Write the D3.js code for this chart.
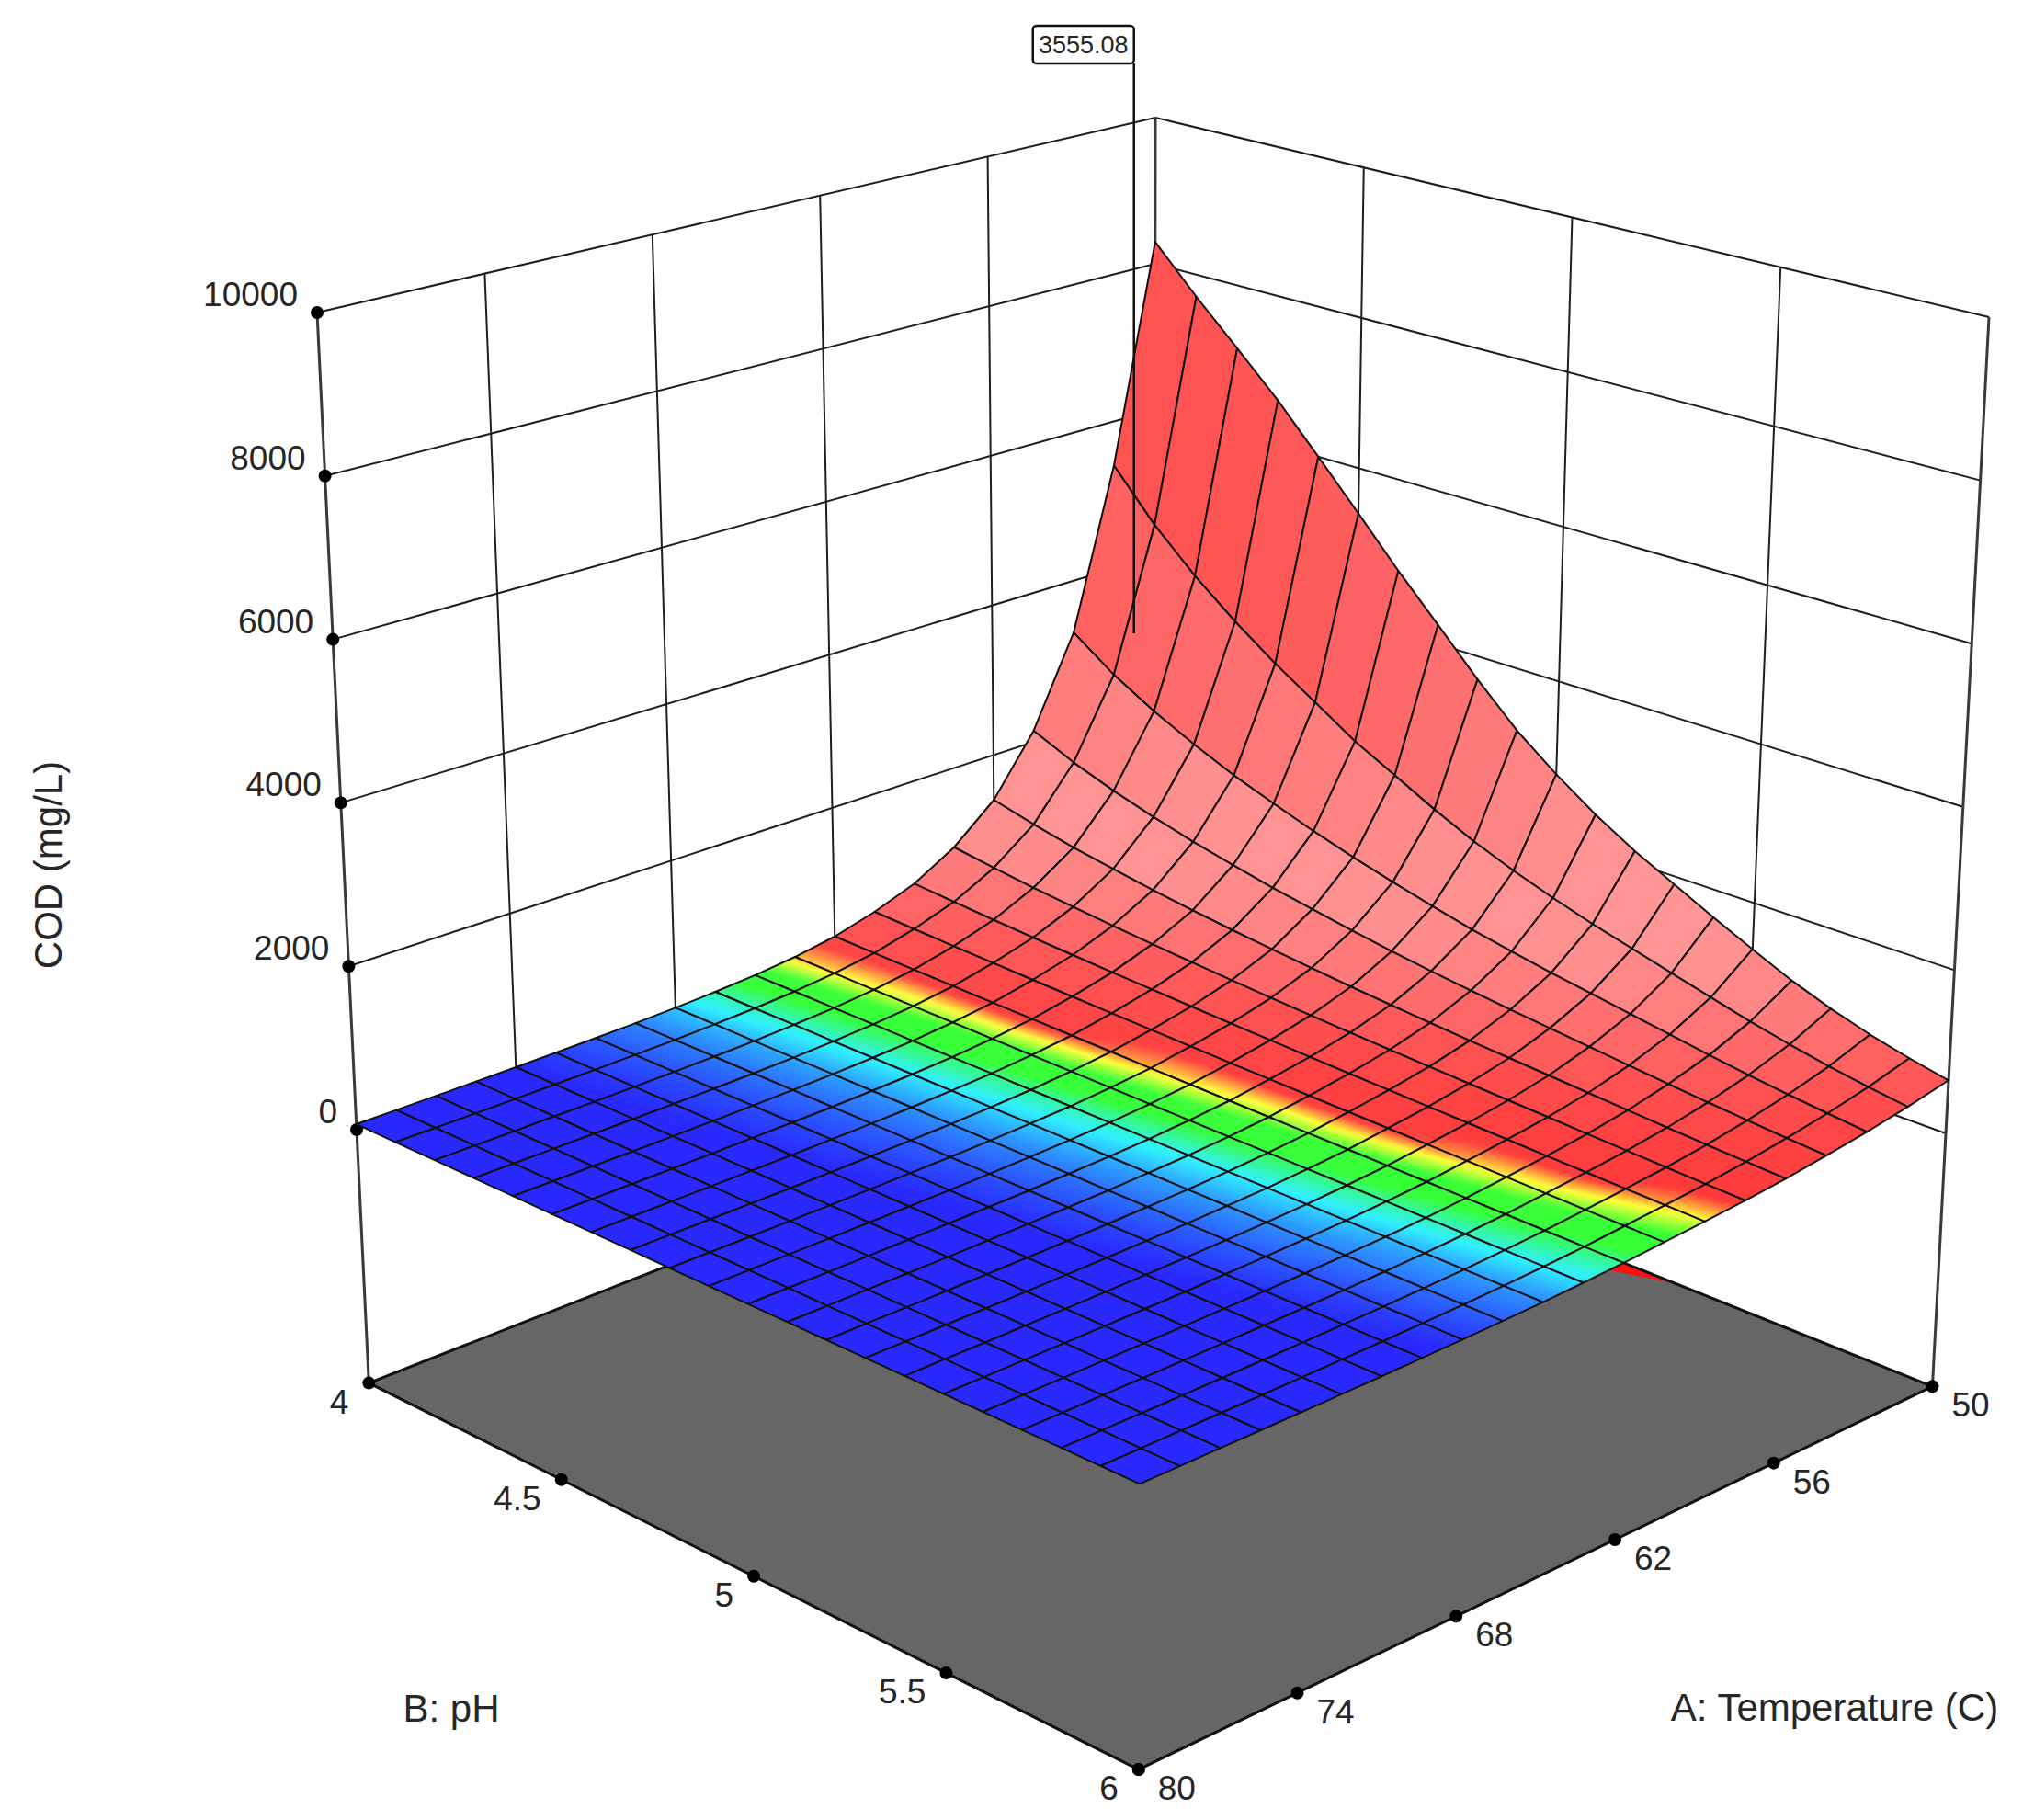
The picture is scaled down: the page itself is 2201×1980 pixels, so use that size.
<!DOCTYPE html>
<html lang="en">
<head>
    <meta charset="UTF-8">
    <title>COD response surface</title>
    <script src="https://d3js.org/d3.v7.min.js"></script>
    <style>
        body { margin: 0; background: #fff; }
        text { font-family: "Liberation Sans", Arial, sans-serif; fill: #262626; }
        .wall { stroke: #1e1e1e; stroke-width: 2px; }
        .edge { stroke: #3a3a3a; stroke-width: 3px; }
        .mesh { stroke: #111; stroke-width: 2px; stroke-linejoin: round; }
        .tick-label { font-size: 37px; }
        .axis-title { font-size: 42px; }
    </style>
</head>
<body>
    <svg width="2201" height="1980"></svg>
    <script>
        // grid of the fitted surface (A = temperature, B = pH)
        const tempGrid = [50, 51.5, 53, 54.5, 56, 57.5, 59, 60.5, 62, 63.5, 65, 66.5, 68, 69.5, 71, 72.5, 74, 75.5, 77, 78.5, 80];
        const phGrid = [4.0, 4.1, 4.2, 4.3, 4.4, 4.5, 4.6, 4.7, 4.8, 4.9, 5.0, 5.1, 5.2, 5.3, 5.4, 5.5, 5.6, 5.7, 5.8, 5.9, 6.0];

        // COD (mg/L), one row per pH, one column per temperature
        const codGrid = [
            [8300, 5400, 3300, 2150, 1400, 950, 650, 460, 320, 235, 180, 145, 120, 103, 92, 84, 78, 74, 71, 69, 68],
            [7700, 4760, 2910, 1910, 1266, 873, 608, 436, 306, 227, 175, 141, 118, 101, 91, 83, 77, 73, 70, 68, 67],
            [7150, 4240, 2600, 1720, 1150, 806, 570, 413, 294, 219, 170, 138, 115, 100, 89, 82, 76, 73, 70, 68, 67],
            [6600, 3800, 2340, 1560, 1060, 750, 537, 394, 282, 212, 165, 135, 113, 98, 88, 81, 76, 72, 69, 67, 66],
            [6000, 3410, 2110, 1420, 975, 698, 507, 375, 271, 205, 160, 132, 111, 97, 87, 80, 75, 71, 69, 67, 66],
            [5400, 3070, 1920, 1300, 900, 652, 479, 358, 261, 199, 156, 129, 109, 95, 86, 79, 74, 70, 68, 66, 65],
            [4800, 2730, 1740, 1190, 835, 611, 454, 342, 251, 193, 152, 126, 107, 94, 85, 78, 73, 70, 67, 66, 65],
            [4250, 2460, 1580, 1100, 776, 573, 430, 327, 242, 187, 148, 123, 105, 92, 84, 77, 72, 69, 67, 65, 64],
            [3700, 2190, 1440, 1010, 723, 538, 408, 313, 233, 181, 144, 121, 103, 91, 83, 76, 72, 68, 66, 65, 64],
            [3200, 1950, 1310, 928, 672, 506, 388, 299, 225, 176, 140, 118, 101, 89, 81, 75, 71, 68, 66, 64, 63],
            [2800, 1750, 1190, 858, 628, 477, 369, 287, 217, 170, 137, 115, 99, 88, 80, 75, 70, 67, 65, 64, 63],
            [2450, 1575, 1093, 795, 588, 450, 351, 275, 209, 165, 133, 113, 97, 87, 79, 74, 69, 67, 65, 63, 62],
            [2150, 1420, 1000, 737, 550, 426, 335, 264, 202, 161, 130, 110, 96, 85, 78, 73, 69, 66, 64, 63, 62],
            [1900, 1284, 921, 686, 517, 403, 319, 254, 195, 156, 127, 108, 94, 84, 77, 72, 68, 65, 64, 62, 61],
            [1650, 1150, 840, 635, 484, 381, 304, 244, 189, 152, 124, 106, 92, 83, 76, 71, 67, 65, 63, 62, 61],
            [1420, 1021, 763, 585, 451, 359, 289, 233, 182, 147, 121, 104, 91, 82, 75, 70, 67, 64, 63, 61, 60],
            [1200, 894, 685, 535, 419, 336, 274, 223, 175, 142, 117, 101, 89, 80, 74, 69, 66, 63, 62, 61, 60],
            [1020, 785, 616, 489, 389, 316, 260, 213, 169, 138, 114, 99, 87, 79, 73, 69, 65, 63, 62, 60, 59],
            [870, 689, 553, 447, 360, 296, 246, 203, 162, 134, 111, 97, 85, 78, 72, 68, 64, 62, 61, 60, 59],
            [750, 609, 499, 409, 334, 277, 233, 194, 156, 129, 108, 94, 84, 76, 71, 67, 64, 62, 61, 59, 58],
            [650, 540, 450, 375, 310, 260, 220, 185, 150, 125, 105, 92, 82, 75, 70, 66, 63, 61, 60, 59, 58]
        ];

        const tempTicks = [50, 56, 62, 68, 74, 80];
        const phTicks = [4, 4.5, 5, 5.5, 6];
        const codTicks = [0, 2000, 4000, 6000, 8000, 10000];

        // flagged design point
        const flagTemp = [53];
        const flagPH = [4.15];
        const flagCOD = [3555.08];

        // red patch of the floor projection peeking out at the back
        const floorPatchTemp = [50, 56.5, 50];
        const floorPatchPH = [4, 4, 5.34];

        const svg = d3.select("svg");
        const defs = svg.append("defs");

        // box coordinates: a along temperature, b along pH, c along COD
        const aS = d3.scaleLinear().domain([50, 80]).range([0, 1]);
        const bS = d3.scaleLinear().domain([4, 6]).range([0, 1]);
        const cS = d3.scaleLinear().domain([0, 10000]).range([0, 1]);
        const FLOOR = -0.31;

        // page position of the four vertical box edges (at COD 0 and at COD 10000)
        const frameCorners = [
            {a: 0, b: 0, base: [1256, 923], top: [1257, 128]},
            {a: 1, b: 0, base: [388, 1229], top: [345, 340]},
            {a: 0, b: 1, base: [2117, 1233], top: [2164, 345]},
            {a: 1, b: 1, base: [1240, 1620], top: [1244, 636]}
        ];

        function project(a, b, c) {
            let x = 0, y = 0;
            frameCorners.forEach(k => {
                const w = (k.a ? a : 1 - a) * (k.b ? b : 1 - b);
                x += w * (k.base[0] + c * (k.top[0] - k.base[0]));
                y += w * (k.base[1] + c * (k.top[1] - k.base[1]));
            });
            return [x, y];
        }

        function drawSegs(cls, segs) {
            svg.append("g")
                .selectAll("line")
                .data(segs)
                .join("line")
                .attr("class", cls)
                .each(function(d) {
                    const p1 = project(...d[0]), p2 = project(...d[1]);
                    d3.select(this).attr("x1", p1[0]).attr("y1", p1[1]).attr("x2", p2[0]).attr("y2", p2[1]);
                });
        }

        // floor
        const floorPts = [[0, 0], [1, 0], [1, 1], [0, 1]].map(([a, b]) => project(a, b, FLOOR));
        svg.append("path")
            .attr("d", d3.line()(floorPts) + "Z")
            .attr("fill", "#666666");
        svg.append("path")
            .attr("d", d3.line()(floorPatchTemp.map((t, k) => project(aS(t), bS(floorPatchPH[k]), FLOOR))) + "Z")
            .attr("fill", "#ff1010");
        svg.append("path")
            .attr("d", d3.line()(floorPts) + "Z")
            .attr("fill", "none")
            .attr("stroke", "#111")
            .attr("stroke-width", 3)
            .attr("stroke-linejoin", "round");

        // back walls
        const wallSegs = [];
        codTicks.forEach(v => {
            wallSegs.push([[1, 0, cS(v)], [0, 0, cS(v)]]);
            wallSegs.push([[0, 0, cS(v)], [0, 1, cS(v)]]);
        });
        tempTicks.slice(1, -1).forEach(t => wallSegs.push([[aS(t), 0, 0], [aS(t), 0, 1]]));
        phTicks.slice(1, -1).forEach(p => wallSegs.push([[0, bS(p), 0], [0, bS(p), 1]]));
        drawSegs("wall", wallSegs);

        drawSegs("edge", [
            [[1, 0, FLOOR], [1, 0, 1]],
            [[0, 1, FLOOR], [0, 1, 1]],
            [[0, 0, 0], [0, 0, 1]]
        ]);

        // COD axis ticks
        const zTicks = svg.append("g");
        codTicks.forEach(v => {
            const [x, y] = project(1, 0, cS(v));
            zTicks.append("circle").attr("cx", x).attr("cy", y).attr("r", 7).attr("fill", "#000");
            zTicks.append("text")
                .attr("class", "tick-label")
                .attr("x", x - 21)
                .attr("y", y - 7)
                .attr("text-anchor", "end")
                .text(v);
        });

        // surface colours
        const colorScale = d3.scaleLinear()
            .domain([78, 92, 110, 130, 165, 195, 225, 250])
            .range(["#2828ff", "#2a5cff", "#2a9cff", "#2cf0ff", "#30ff30", "#30ff30", "#ffff30", "#ff3030"])
            .clamp(true);
        const HEIGHT_RATIO = 0.83;

        // per vertex highlight from the tilt of the surface
        const nI = tempGrid.length, nJ = phGrid.length;
        const h = (i, j) => cS(codGrid[j][i]) * HEIGHT_RATIO;
        const glow = codGrid.map((row, j) => row.map((v, i) => {
            const i0 = Math.max(0, i - 1), i1 = Math.min(nI - 1, i + 1);
            const j0 = Math.max(0, j - 1), j1 = Math.min(nJ - 1, j + 1);
            const dA = (h(i1, j) - h(i0, j)) / (aS(tempGrid[i1]) - aS(tempGrid[i0]));
            const dB = (h(i, j1) - h(i, j0)) / (bS(phGrid[j1]) - bS(phGrid[j0]));
            const nz = 1 / Math.sqrt(1 + dA * dA + dB * dB);
            const tilt = Math.acos(nz);
            return 0.5 * Math.pow(Math.max(0, Math.sin(2 * tilt)), 1.3);
        }));

        const quads = [];
        for (let j = 0; j < nJ - 1; j++) {
            for (let i = 0; i < nI - 1; i++) {
                const corners = [[i, j], [i + 1, j], [i + 1, j + 1], [i, j + 1]].map(([ii, jj]) => ({
                    a: aS(tempGrid[ii]),
                    b: bS(phGrid[jj]),
                    v: codGrid[jj][ii],
                    k: glow[jj][ii]
                }));
                corners.forEach(c => { c.p = project(c.a, c.b, cS(c.v)); });
                quads.push({i, j, corners, order: d3.mean(corners, c => c.a + c.b)});
            }
        }
        // back corner first
        quads.sort((q1, q2) => q1.order - q2.order);

        const lit = (col, k) => d3.interpolateRgb(col, "#ffffff")(k);

        quads.forEach(q => {
            const k = d3.mean(q.corners, c => c.k);
            const vals = q.corners.map(c => Math.max(70, Math.min(260, c.v)));
            const vmin = d3.min(vals), vmax = d3.max(vals);
            if (vmax - vmin < 3) {
                q.fill = lit(colorScale(d3.mean(vals)), k);
                return;
            }
            // screen space plane fit of value, used for a linear gradient
            const mx = d3.mean(q.corners, c => c.p[0]), my = d3.mean(q.corners, c => c.p[1]);
            const mv = d3.mean(vals);
            let sxx = 0, sxy = 0, syy = 0, sxv = 0, syv = 0;
            q.corners.forEach((c, idx) => {
                const dx = c.p[0] - mx, dy = c.p[1] - my, dv = vals[idx] - mv;
                sxx += dx * dx; sxy += dx * dy; syy += dy * dy; sxv += dx * dv; syv += dy * dv;
            });
            const det = sxx * syy - sxy * sxy;
            const gx = (syy * sxv - sxy * syv) / det;
            const gy = (sxx * syv - sxy * sxv) / det;
            const g2 = gx * gx + gy * gy;
            const id = `q${q.i}_${q.j}`;
            const grad = defs.append("linearGradient")
                .attr("id", id)
                .attr("gradientUnits", "userSpaceOnUse")
                .attr("x1", mx + gx * (vmin - mv) / g2)
                .attr("y1", my + gy * (vmin - mv) / g2)
                .attr("x2", mx + gx * (vmax - mv) / g2)
                .attr("y2", my + gy * (vmax - mv) / g2);
            d3.range(0, 1.0001, 0.1).forEach(t => {
                grad.append("stop")
                    .attr("offset", t)
                    .attr("stop-color", lit(colorScale(vmin + t * (vmax - vmin)), k));
            });
            q.fill = `url(#${id})`;
        });

        svg.append("g")
            .selectAll("path")
            .data(quads)
            .join("path")
            .attr("class", "mesh")
            .attr("d", q => d3.line()(q.corners.map(c => c.p)) + "Z")
            .attr("fill", q => q.fill);

        // flagged point
        flagCOD.forEach((v, k) => {
            const [x, y] = project(aS(flagTemp[k]), bS(flagPH[k]), cS(v));
            const boxBottom = 69, boxW = 110, boxH = 41;
            svg.append("line")
                .attr("x1", x).attr("y1", y)
                .attr("x2", x).attr("y2", boxBottom)
                .attr("stroke", "#111").attr("stroke-width", 2.5);
            svg.append("rect")
                .attr("x", x - boxW).attr("y", boxBottom - boxH)
                .attr("width", boxW).attr("height", boxH)
                .attr("rx", 4)
                .attr("fill", "#fff").attr("stroke", "#111").attr("stroke-width", 2.5);
            svg.append("text")
                .attr("x", x - boxW / 2).attr("y", boxBottom - 11)
                .attr("text-anchor", "middle")
                .attr("font-size", 27)
                .text(v.toFixed(2));
        });

        // floor axes
        const floorTicks = svg.append("g");
        tempTicks.forEach(t => {
            const [x, y] = project(aS(t), 1, FLOOR);
            floorTicks.append("circle").attr("cx", x).attr("cy", y).attr("r", 7).attr("fill", "#000");
            floorTicks.append("text")
                .attr("class", "tick-label")
                .attr("x", x + 21).attr("y", y + 33)
                .text(t);
        });
        phTicks.forEach(p => {
            const [x, y] = project(1, bS(p), FLOOR);
            floorTicks.append("circle").attr("cx", x).attr("cy", y).attr("r", 7).attr("fill", "#000");
            floorTicks.append("text")
                .attr("class", "tick-label")
                .attr("x", x - 22).attr("y", y + 33)
                .attr("text-anchor", "end")
                .text(p);
        });

        // axis titles
        svg.append("text")
            .attr("class", "axis-title")
            .attr("x", 491).attr("y", 1873)
            .attr("text-anchor", "middle")
            .text("B: pH");
        svg.append("text")
            .attr("class", "axis-title")
            .attr("x", 1996).attr("y", 1872)
            .attr("text-anchor", "middle")
            .text("A: Temperature (C)");
        svg.append("text")
            .attr("class", "axis-title")
            .attr("transform", "translate(67,941) rotate(-90)")
            .attr("text-anchor", "middle")
            .text("COD (mg/L)");
    </script>
</body>
</html>
